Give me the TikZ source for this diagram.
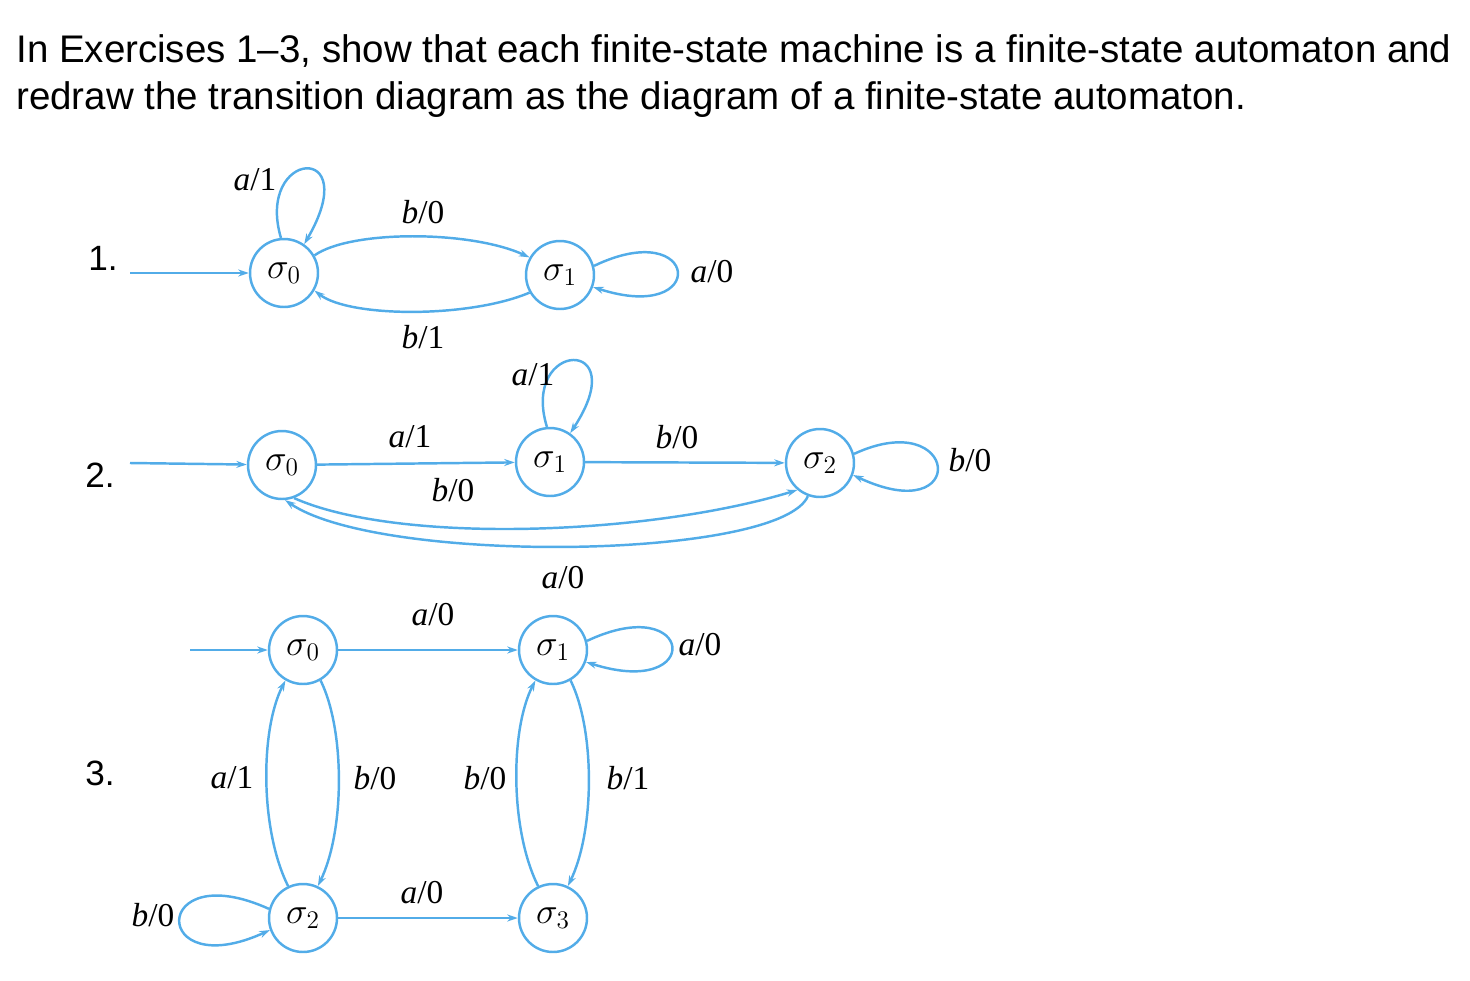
\documentclass[tikz,border=0pt]{standalone}
\usepackage{fontspec}
\setmainfont{Liberation Serif}
\newfontfamily\hsans{Liberation Sans}
\usetikzlibrary{arrows.meta}
\definecolor{lb}{RGB}{82,172,232}
\newcommand{\lb}[2]{\textit{#1}/#2}
\begin{document}
\begin{tikzpicture}[x=0.02cm,y=-0.02cm,
  st/.style={circle,draw=lb,line width=1.4pt,minimum size=1.36cm,inner sep=0pt,font=\fontsize{22}{22}\selectfont,fill=white},
  tr/.style={draw=lb,line width=1.4pt,-{Stealth[length=6pt,width=4pt]}},
  lab/.style={font=\fontsize{19}{20}\selectfont},
  num/.style={font=\hsans\fontsize{20}{22}\selectfont}]
\useasboundingbox (0,0) rectangle (1470,980);
\node[anchor=north west,align=left,font=\hsans\fontsize{21.9}{27}\selectfont,inner sep=0pt] (title) at (16,34)
 {In Exercises 1–3, show that each finite-state machine is a finite-state automaton and\\redraw the transition diagram as the diagram of a finite-state automaton.};
% 1
\node[num] (n1) at (103,258) {1.};
\node[st] (a0) at (284,273) {$\sigma_0$};
\node[st] (a1) at (560,275) {$\sigma_1$};
\coordinate (i1) at (130,273);
\draw[tr] (i1) -- (a0);
\draw[tr] (a0.95) .. controls (255,150) and (365,140) .. (a0.55);
\draw[tr] (a0.30) .. controls (350,230) and (470,230) .. (a1.150);
\draw[tr] (a1.210) .. controls (470,318) and (350,318) .. (a0.330);
\draw[tr] (a1.15) .. controls (700,215) and (710,325) .. (a1.340);
\node[lab] (l1) at (255,180) {\lb{a}{1}};
\node[lab] (l2) at (423,212) {\lb{b}{0}};
\node[lab] (l3) at (423,337) {\lb{b}{1}};
\node[lab] (l4) at (712,272) {\lb{a}{0}};
% 2
\node[num] (n2) at (100,475) {2.};
\node[st] (b0) at (282,465) {$\sigma_0$};
\node[st] (b1) at (550,462) {$\sigma_1$};
\node[st] (b2) at (820,463) {$\sigma_2$};
\coordinate (i2) at (130,463);
\draw[tr] (i2) -- (b0);
\draw[tr] (b0) -- (b1);
\draw[tr] (b1) -- (b2);
\draw[tr] (b1.95) .. controls (520,340) and (635,335) .. (b1.55);
\draw[tr] (b2.15) .. controls (960,405) and (970,530) .. (b2.340);
\draw[tr] (b0.290) .. controls (400,545) and (650,535) .. (b2.230);
\draw[tr] (b2.250) .. controls (780,560) and (380,565) .. (b0.275);
\node[lab] (m1) at (533,375) {\lb{a}{1}};
\node[lab] (m2) at (410,437) {\lb{a}{1}};
\node[lab] (m3) at (677,437) {\lb{b}{0}};
\node[lab] (m4) at (453,490) {\lb{b}{0}};
\node[lab] (m5) at (970,460) {\lb{b}{0}};
\node[lab] (m6) at (563,578) {\lb{a}{0}};
% 3
\node[num] (n3) at (100,773) {3.};
\node[st] (c0) at (303,650) {$\sigma_0$};
\node[st] (c1) at (553,650) {$\sigma_1$};
\node[st] (c2) at (303,918) {$\sigma_2$};
\node[st] (c3) at (553,918) {$\sigma_3$};
\coordinate (i3) at (190,650);
\draw[tr] (i3) -- (c0);
\draw[tr] (c0) -- (c1);
\draw[tr] (c2) -- (c3);
\draw[tr] (c1.15) .. controls (695,590) and (705,700) .. (c1.340);
\draw[tr] (c2.165) .. controls (150,855) and (150,985) .. (c2.200);
\draw[tr] (c2.115) .. controls (260,830) and (260,730) .. (c0.240);
\draw[tr] (c0.300) .. controls (345,730) and (345,830) .. (c2.65);
\draw[tr] (c3.115) .. controls (510,830) and (510,730) .. (c1.240);
\draw[tr] (c1.300) .. controls (595,730) and (595,830) .. (c3.65);
\node[lab] (k1) at (433,615) {\lb{a}{0}};
\node[lab] (k2) at (700,645) {\lb{a}{0}};
\node[lab] (k3) at (232,778) {\lb{a}{1}};
\node[lab] (k4) at (375,778) {\lb{b}{0}};
\node[lab] (k5) at (485,778) {\lb{b}{0}};
\node[lab] (k6) at (628,778) {\lb{b}{1}};
\node[lab] (k7) at (153,915) {\lb{b}{0}};
\node[lab] (k8) at (422,893) {\lb{a}{0}};
\end{tikzpicture}
\end{document}
